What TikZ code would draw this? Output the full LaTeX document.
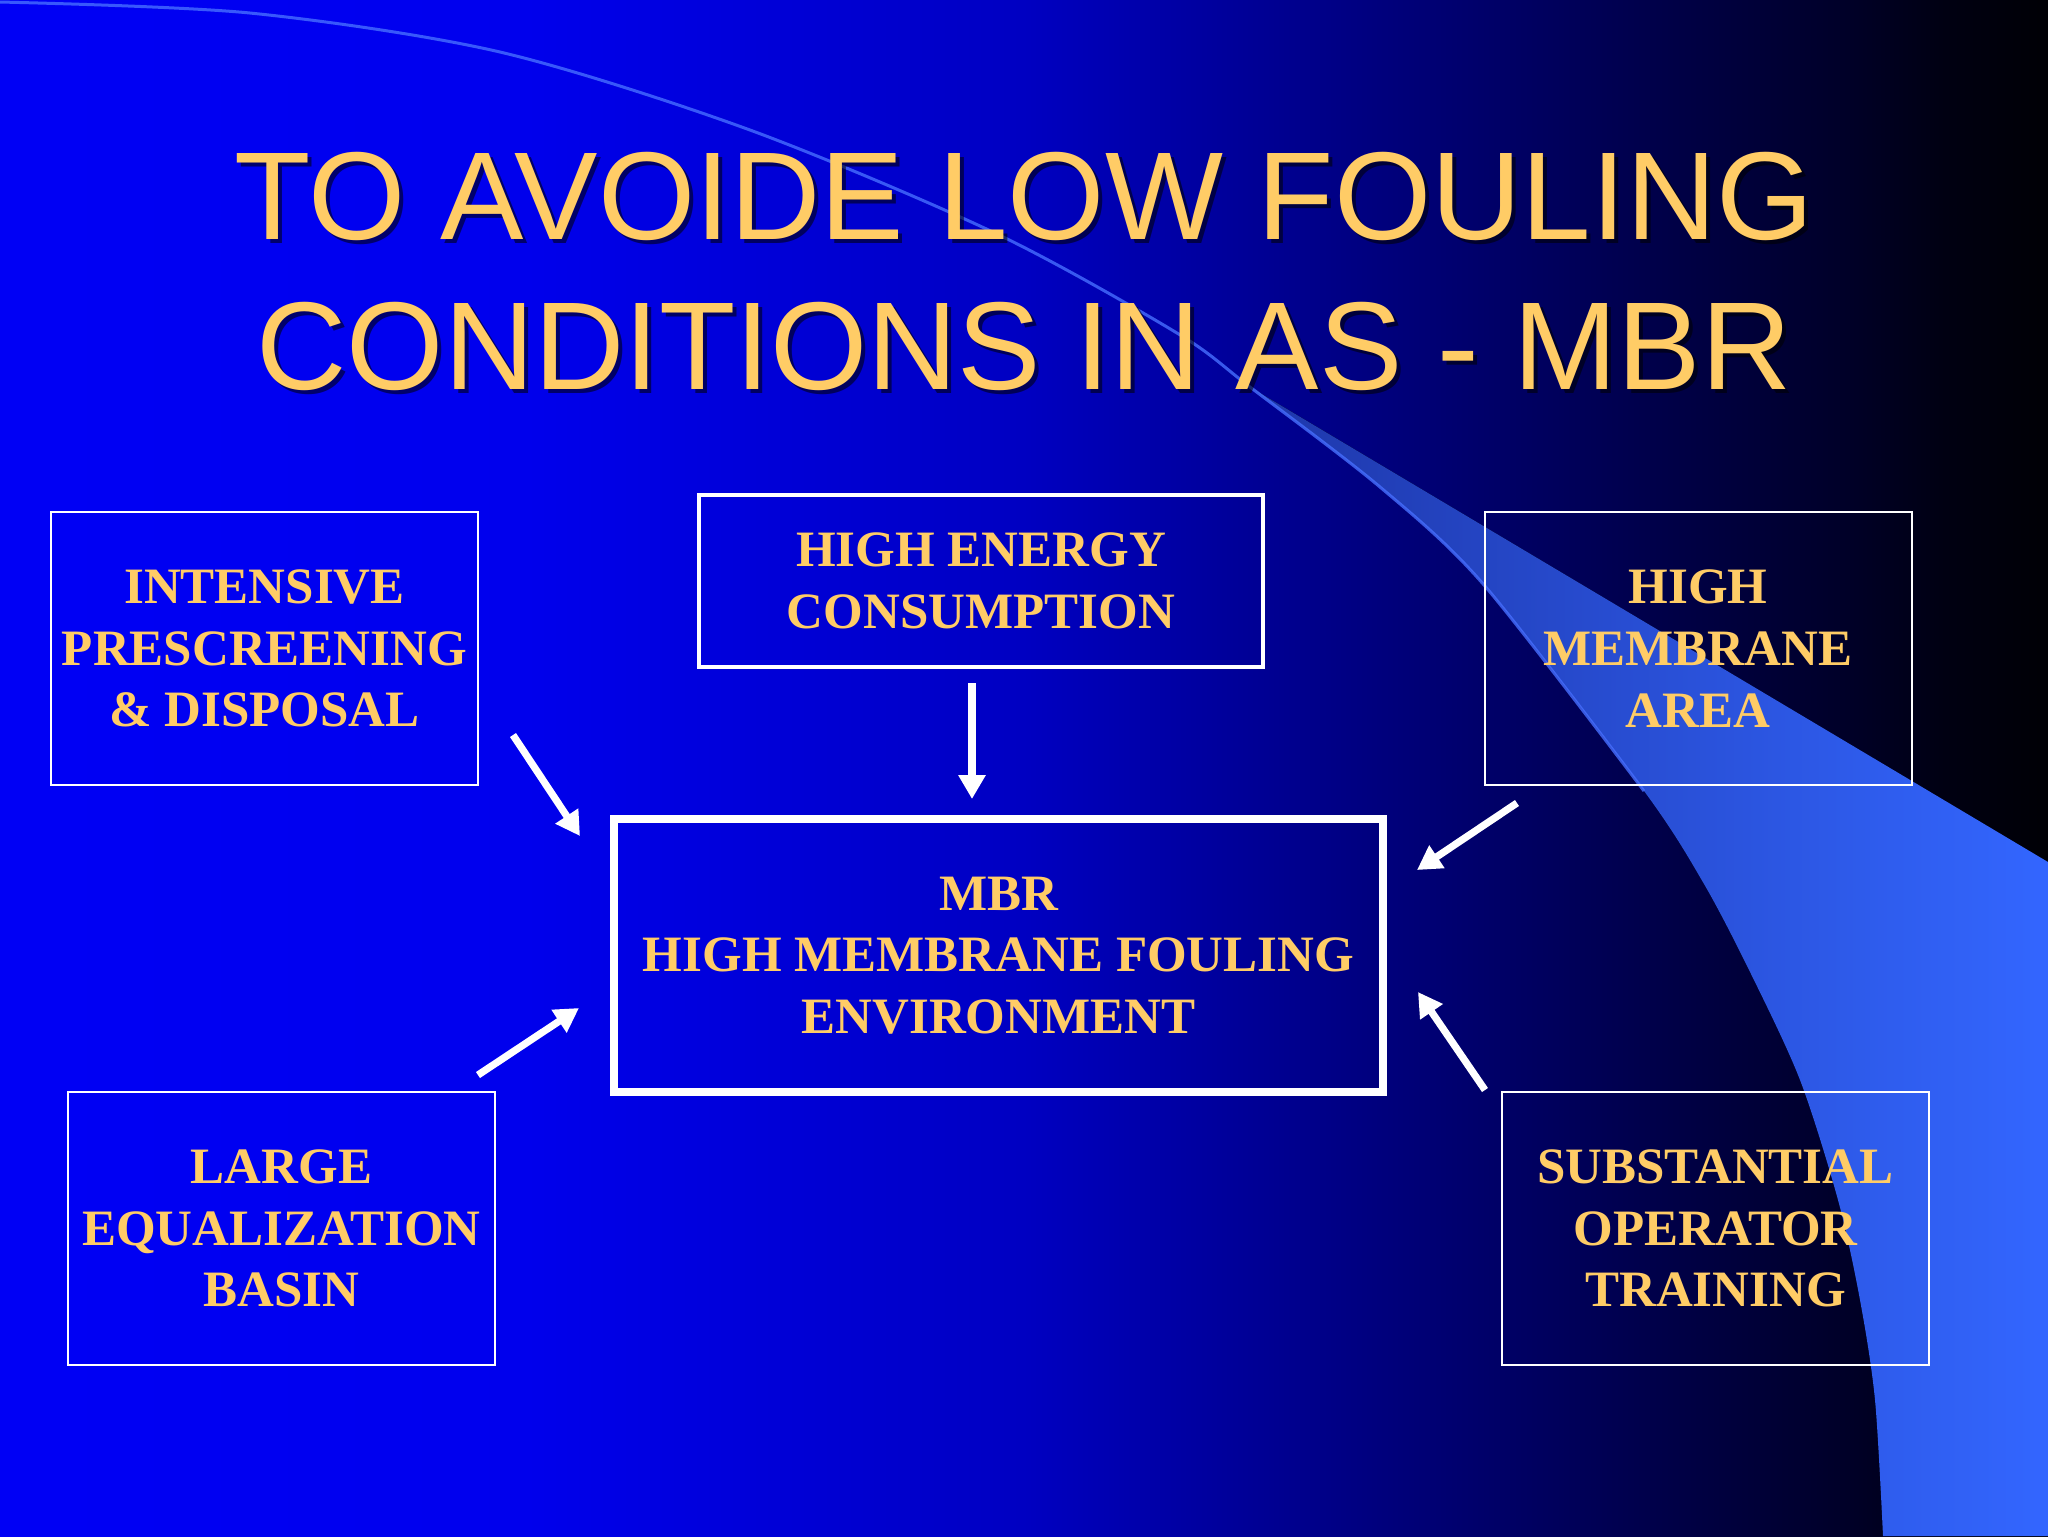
\documentclass[tikz,border=0pt]{standalone}
\usepackage{fontspec}
\setmainfont{Liberation Serif}
\newfontfamily\titlefont{Liberation Sans}
\usetikzlibrary{arrows.meta}

\definecolor{slidegold}{RGB}{255,204,102}
\definecolor{bandblue}{RGB}{51,102,255}
\definecolor{bandfaint}{RGB}{30,55,170}
\definecolor{arcblue}{RGB}{70,110,255}
\newcommand\boxfont{\bfseries\fontsize{12.75pt}{15.4pt}\selectfont}
\newcommand\headfont{\titlefont\fontsize{31.25pt}{37.5pt}\selectfont}

\pgfdeclarehorizontalshading{slidebg}{100bp}{rgb(0bp)=(0,0,0.96); rgb(25bp)=(0,0,0.96); rgb(37.5bp)=(0,0,0.93); rgb(50bp)=(0,0,0.76); rgb(59bp)=(0,0,0.48); rgb(65bp)=(0,0,0.30); rgb(70bp)=(0,0,0.16); rgb(72.5bp)=(0,0,0.07); rgb(75bp)=(0,0,0.02); rgb(100bp)=(0,0,0.02)}

\tikzset{every picture/.style={line width=0.75pt}}

\begin{document}
\begin{tikzpicture}[x=0.25pt,y=0.25pt,yscale=-1,xscale=1,
  box/.style={draw=white, line width=0.5pt, minimum width=106.75pt, minimum height=68.25pt, inner sep=0pt, align=center, text=slidegold, font=\boxfont},
  flow/.style={draw=white, line width=1.8pt, -{Triangle[length=6pt,width=6.5pt]}},
  heading/.style={anchor=base, inner sep=0pt, text=slidegold, font=\headfont}]
\useasboundingbox (0,0) rectangle (2048,1536);

%Shape: Background
\fill [shading=slidebg] (0,0) rectangle (2048,1536);
%Shape: Band
\fill [left color=bandfaint, middle color=bandblue, right color=bandblue] (2048,862) -- (1250,387) -- plot [smooth] coordinates {(1250,387) (1380,487) (1484,585) (1644,791) (1704,884) (1751,974) (1800,1080) (1838,1200) (1860,1300) (1875,1400) (1883,1536)} -- (2048,1536) -- cycle;
%Curve Lines
\draw [arcblue, line width=0.75pt, opacity=0.8] plot [smooth] coordinates {(0,2) (250,13) (500,52) (750,130) (995,233) (1177,333) (1250,387) (1380,487) (1484,585) (1644,791)};

% Text Node
\node [heading, text=black, opacity=0.55] (shadowA) at (1028,243) {TO AVOIDE LOW FOULING};
\node [heading, text=black, opacity=0.55] (shadowB) at (1028,393) {CONDITIONS IN AS - MBR};
\node [heading] (titleA) at (1024,239) {TO AVOIDE LOW FOULING};
\node [heading] (titleB) at (1024,389) {CONDITIONS IN AS - MBR};

% Text Node
\node [box] (intensive) at (264.5,648.5) {INTENSIVE\\PRESCREENING\\\& DISPOSAL};
\node [box, line width=1pt, minimum width=141pt, minimum height=43pt] (energy) at (981,581) {HIGH ENERGY\\CONSUMPTION};
\node [box] (membrane) at (1698,648.5) {HIGH\\MEMBRANE\\AREA};
\node [box, line width=2pt, minimum width=192.25pt] (mbr) at (998.5,955.5) {MBR\\HIGH MEMBRANE FOULING\\ENVIRONMENT};
\node [box] (large) at (281.5,1228.5) {LARGE\\EQUALIZATION\\BASIN};
\node [box] (substantial) at (1715.5,1228.5) {SUBSTANTIAL\\OPERATOR\\TRAINING};

%Straight Lines
\coordinate (intensiveT) at (513,735);
\coordinate (intensiveH) at (580,836);
\coordinate (energyT) at (972,683);
\coordinate (energyH) at (972,799);
\coordinate (membraneT) at (1517,803);
\coordinate (membraneH) at (1417,870);
\coordinate (largeT) at (478,1075);
\coordinate (largeH) at (579,1008);
\coordinate (substantialT) at (1485,1090);
\coordinate (substantialH) at (1418,992);
\draw [flow] (intensiveT) -- (intensiveH);
\draw [flow] (energyT) -- (energyH);
\draw [flow] (membraneT) -- (membraneH);
\draw [flow] (largeT) -- (largeH);
\draw [flow] (substantialT) -- (substantialH);

\end{tikzpicture}
\end{document}
